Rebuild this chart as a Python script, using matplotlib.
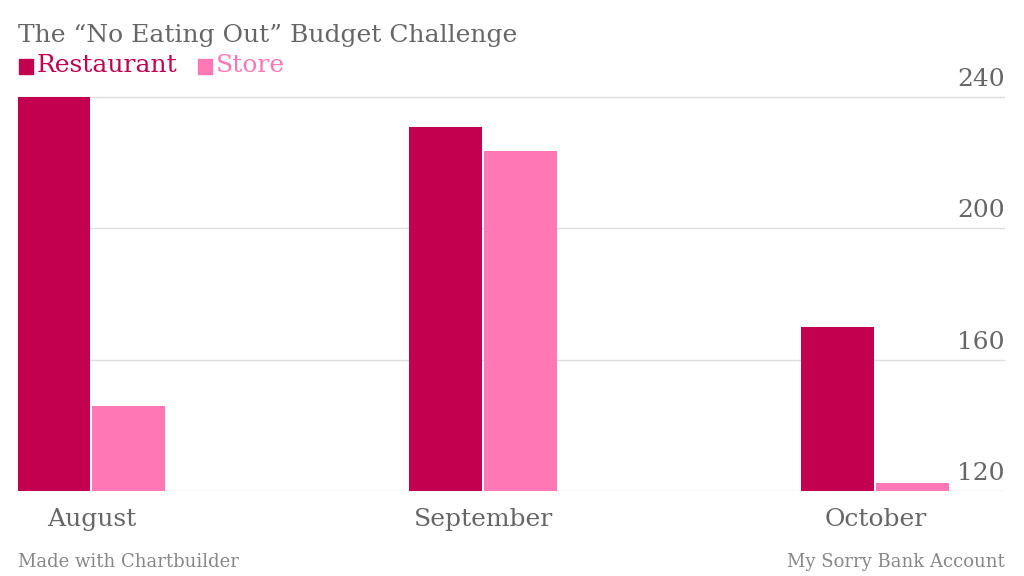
import matplotlib
matplotlib.use("Agg")
import matplotlib.pyplot as plt
import matplotlib.transforms as mtrans
from matplotlib.patches import Rectangle

months = ["August", "September", "October"]
restaurant = [240, 231, 170]
store = [146, 223.5, 122.4]
yticks = [120, 160, 200, 240]

c_rest = "#c2004f"
c_store = "#ff77b4"
gray = "#666666"
plt.rcParams['font.family'] = ['DejaVu Serif']

fig = plt.figure(figsize=(10.24, 5.76), dpi=100)
ppu = 394 / 120
top_px = 97 - 2 * ppu
ax = fig.add_axes([18/1024, 1 - 491/576, 987/1024, (491 - top_px)/576])
x = list(range(len(months)))
w = 0.186
ax.bar([i - w/2 - 0.003 for i in x], restaurant, w, color=c_rest, zorder=2)
ax.bar([i + w/2 + 0.003 for i in x], store, w, color=c_store, zorder=2)
ax.set_xlim(-0.187, 2.331)
ax.set_ylim(120, 242)
for t in yticks:
    ax.axhline(t, color="#dddddd", lw=1, zorder=1)
tr = mtrans.blended_transform_factory(ax.transAxes, ax.transData)
for t in yticks:
    ax.text(1.0, t + 1.8, str(t), transform=tr, ha="right", va="bottom", fontsize=18, color=gray)
ax.set_yticks([])
ax.set_xticks(x)
ax.set_xticklabels(months, fontsize=18, color=gray)
ax.tick_params(axis="x", length=0, pad=12)
for s in ax.spines.values():
    s.set_visible(False)

fig.text(18/1024, 1 - 35/576, "The “No Eating Out” Budget Challenge", fontsize=18, color=gray, va="center")
fig.patches.append(Rectangle((19/1024, 1 - 74/576), 14/1024, 15/576, transform=fig.transFigure, color=c_rest, figure=fig))
fig.text(37/1024, 1 - 66/576, "Restaurant", fontsize=18, color=c_rest, va="center")
fig.patches.append(Rectangle((198/1024, 1 - 74/576), 14/1024, 15/576, transform=fig.transFigure, color=c_store, figure=fig))
fig.text(216/1024, 1 - 66/576, "Store", fontsize=18, color=c_store, va="center")
fig.text(18/1024, 1 - 562/576, "Made with Chartbuilder", fontsize=13, color="#888888", va="center")
fig.text(1005/1024, 1 - 562/576, "My Sorry Bank Account", fontsize=13, color="#888888", va="center", ha="right")
fig.savefig("out.png")
